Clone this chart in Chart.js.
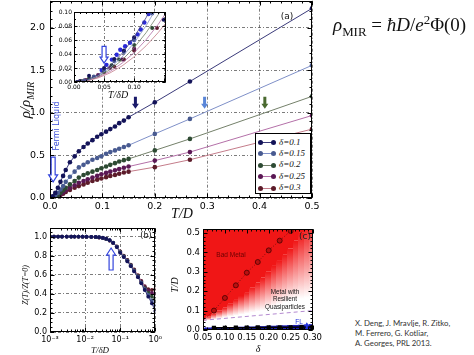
<!DOCTYPE html>
<html><head><meta charset="utf-8">
<script src="https://cdn.jsdelivr.net/npm/chart.js@4.4.1/dist/chart.umd.min.js"></script>
<style>
html,body{margin:0;padding:0;background:#fff;}
body{width:474px;height:355px;overflow:hidden;position:relative;}
canvas{position:absolute;display:block;}
.t{position:absolute;white-space:nowrap;line-height:1;color:#111;}
.c{transform:translate(-50%,-50%);}
.r{transform:translate(-50%,-50%) rotate(-90deg);}
.m{font-family:"Liberation Serif","DejaVu Serif",serif;font-style:italic;}
.s{font-family:"DejaVu Sans",sans-serif;}
.l{font-family:"Liberation Sans",Arial,sans-serif;}
sub,sup{font-size:0.68em;line-height:0;}
</style></head><body>
<canvas id="ca" width="330" height="231" style="left:0;top:-10px"></canvas>
<canvas id="ci" width="130" height="94" style="left:40px;top:4px"></canvas>
<canvas id="cb" width="165" height="135" style="left:0;top:220px"></canvas>
<canvas id="cc" width="160" height="135" style="left:165px;top:220px"></canvas>
<div id="leg" style="position:absolute;left:255px;top:133px;width:56px;height:61px;border:1px solid #000;background:#fff;box-sizing:border-box"></div>

<div class="t m r" style="left:25px;top:100px;font-size:15px">ρ/ρ<sub>MIR</sub></div>
<div class="t m c" style="left:182px;top:214px;font-size:14px">T/D</div>
<div class="t m c" style="left:118px;top:95px;font-size:10px">T/δD</div>
<div class="t s r" style="left:57px;top:126px;font-size:8px;color:#3c4ed8">Fermi Liquid</div>
<div class="t s c" style="left:287px;top:16px;font-size:9px">(a)</div>
<div class="t m r" style="left:26px;top:285px;font-size:8px">Z(T)/Z(T=0)</div>
<div class="t m c" style="left:100px;top:350px;font-size:9px">T/δD</div>
<div class="t s c" style="left:146px;top:236px;font-size:8px">(b)</div>
<div class="t m r" style="left:175px;top:285px;font-size:10px">T/D</div>
<div class="t m c" style="left:258px;top:349px;font-size:10px">δ</div>
<div class="t s c" style="left:305px;top:236px;font-size:9px;color:#222">(c)</div>
<div class="t l c" style="left:231px;top:255px;font-size:6.5px;color:#6a0000">Bad Metal</div>
<div class="t l c" style="left:285px;top:292px;font-size:6.3px">Metal with</div>
<div class="t l c" style="left:285px;top:299px;font-size:6.3px">Resilient</div>
<div class="t l c" style="left:285px;top:306.5px;font-size:6.3px">Quasiparticles</div>
<div class="t l c" style="left:299px;top:322px;font-size:6.5px;color:#2233dd">FL</div>
<div class="t" style="left:333px;top:15px;font-family:'Liberation Serif','DejaVu Serif',serif;font-size:19px"><i>ρ</i><sub>MIR</sub> = <i>ħD</i>/<i>e</i><sup>2</sup>Φ(0)</div>
<div class="t" style="left:355px;top:318px;font-family:Lato,'Liberation Sans',sans-serif;font-size:7.8px;line-height:10px;color:#333">X. Deng, J. Mravlje, R. Zitko,<br>M. Ferrero, G. Kotliar,<br>A. Georges, PRL 2013.</div>

<script>
// ---------------- DATA ----------------
const deltaLabels = ['δ=0.1','δ=0.15','δ=0.2','δ=0.25','δ=0.3'];
// panel (a): rho/rho_MIR vs T/D
const tempA = [0,0.005,0.01,0.015,0.02,0.025,0.03,0.038,0.047,0.055,0.064,0.072,0.081,0.09,0.098,0.107,0.115,0.124,0.132,0.141,0.15,0.2,0.267,0.5];
const rhoD010 = [0,0.02,0.06,0.12,0.19,0.26,0.33,0.42,0.49,0.55,0.60,0.64,0.68,0.72,0.75,0.78,0.81,0.84,0.88,0.91,0.95,1.125,1.37,2.23];
const rhoD015 = [0,0.01,0.03,0.06,0.10,0.14,0.19,0.25,0.31,0.36,0.39,0.42,0.45,0.47,0.49,0.52,0.54,0.56,0.58,0.60,0.62,0.754,0.93,1.56];
const rhoD020 = [0,0.005,0.015,0.035,0.06,0.09,0.12,0.16,0.20,0.24,0.27,0.29,0.31,0.33,0.35,0.37,0.39,0.41,0.43,0.445,0.46,0.56,0.695,1.195];
const rhoD025 = [0,0.004,0.01,0.025,0.045,0.065,0.09,0.12,0.15,0.18,0.20,0.22,0.24,0.26,0.28,0.295,0.31,0.325,0.34,0.355,0.37,0.44,0.54,0.97];
const rhoD030 = [0,0.003,0.008,0.02,0.035,0.05,0.07,0.095,0.12,0.14,0.16,0.18,0.20,0.215,0.23,0.245,0.26,0.27,0.285,0.30,0.31,0.363,0.45,0.81];
// inset: fits and points vs T/(delta D)
const insetFitX = [0,0.02,0.04,0.06,0.08,0.1,0.12,0.14,0.16];
const insetFitY = [
  [0,0.00256,0.0102,0.023,0.041,0.064,0.092,0.125,0.164],
  [0,0.00224,0.009,0.0202,0.0358,0.056,0.0806,0.110,0.143],
  [0,0.00196,0.0078,0.0176,0.0314,0.049,0.0706,0.096,0.125],
  [0,0.00168,0.0067,0.0151,0.0269,0.042,0.0605,0.0823,0.1075],
  [0,0.00144,0.0058,0.013,0.023,0.036,0.0518,0.0706,0.092]
];
const insetPtsX = [
  [0.005,0.01,0.025,0.05,0.067,0.083,0.1,0.149],
  [0.017,0.033,0.05,0.067,0.083,0.1,0.13],
  [0.0125,0.025,0.05,0.0625,0.075,0.1,0.13],
  [0.01,0.02,0.04,0.06,0.08,0.1],
  [0.017,0.033,0.05,0.067,0.083,0.1,0.138]
];
const insetPtsY = [
  [0,0.001,0.009,0.02,0.033,0.045,0.064,0.089],
  [0.002,0.008,0.017,0.03,0.043,0.06,0.098],
  [0.001,0.005,0.015,0.024,0.032,0.053,0.077],
  [0.001,0.003,0.01,0.02,0.032,0.048],
  [0.002,0.007,0.014,0.022,0.032,0.045,0.077]
];
const starX = [0.046,0.054,0.063,0.071,0.077,0.085,0.093,0.1,0.106,0.111,0.117,0.124,0.128];
const starY = [0.017,0.0245,0.032,0.039,0.046,0.051,0.056,0.0605,0.068,0.075,0.085,0.097,0.104];
// panel (b): Z(T)/Z(0) vs T/(delta D)
const zT = [0.001,0.0013,0.0017,0.0022,0.003,0.004,0.005,0.0065,0.0085,0.011,0.015,0.02,0.025,0.032,0.04,0.05,0.063,0.08,0.1,0.126,0.16,0.2,0.25,0.32,0.4,0.5,0.63,0.8,1.0];
const zD010 = [1,1,1,1,1,1,1,1,1,0.999,0.998,0.996,0.993,0.988,0.978,0.962,0.935,0.89,0.83,0.785,0.74,0.69,0.635,0.575,0.51,0.44,0.37,0.3,0.22];
const zD015 = [1,1,1,1,1,1,1,1,1,0.999,0.998,0.996,0.993,0.987,0.977,0.962,0.937,0.893,0.835,0.79,0.745,0.695,0.64,0.58,0.515,0.45,0.39,0.33,0.28];
const zD020 = [1,1,1,1,1,1,1,1,0.999,0.999,0.997,0.995,0.992,0.986,0.976,0.96,0.936,0.895,0.84,0.795,0.75,0.70,0.645,0.585,0.52,0.46,0.41,0.37,0.35];
const zD025 = [1,1,1,1,1,1,1,1,0.999,0.998,0.997,0.995,0.991,0.985,0.975,0.959,0.935,0.895,0.842,0.798,0.752,0.703,0.65,0.59,0.53,0.47,0.43,0.41,0.40];
const zD030 = [1,1,1,1,1,1,1,0.999,0.999,0.998,0.996,0.994,0.99,0.984,0.974,0.958,0.934,0.896,0.845,0.80,0.755,0.706,0.655,0.595,0.535,0.48,0.45,0.44,0.45];
// panel (c): crossover diagram T/D vs delta
const crossD = [0.05,0.075,0.1,0.125,0.15,0.175,0.2,0.225,0.25];
const crossT = [0.05,0.10,0.165,0.23,0.295,0.35,0.41,0.46,0.51];
const qpD = [0.05,0.3];
const qpT = [0.05,0.1];
const flD = [0.075,0.1,0.125,0.15,0.175,0.2,0.225,0.25,0.275,0.3];
const flT = [0.011,0.011,0.012,0.012,0.013,0.013,0.014,0.014,0.015,0.015];
const heatD = [0.05,0.0625,0.075,0.0875,0.1,0.1125,0.125,0.1375,0.15,0.1625,0.175,0.1875,0.2,0.2125,0.225,0.2375,0.25,0.2625,0.275,0.2875,0.3];
const heatRed = [0.055,0.07,0.085,0.10,0.115,0.135,0.155,0.175,0.195,0.22,0.245,0.27,0.30,0.33,0.36,0.39,0.42,0.46,0.50,0.54,0.58];
const heatWhite = [0.045,0.05,0.055,0.06,0.065,0.07,0.075,0.08,0.085,0.09,0.095,0.10,0.11,0.12,0.13,0.14,0.15,0.155,0.16,0.165,0.17];
const heatFL = [0.012,0.013,0.013,0.014,0.015,0.015,0.016,0.017,0.018,0.018,0.019,0.02,0.021,0.022,0.023,0.024,0.025,0.026,0.027,0.028,0.03];

// ---------------- STYLE ----------------
const lineColors = ['#3a3a7a','#7f90c8','#74806a','#b470a8','#c47c8a'];
const pointColors = ['#131358','#485a90','#2d4a33','#5a1854','#5c1c2a'];
const TICKFONT = 'DejaVu Sans';

function rng(a,b,s){const r=[];for(let v=a;v<=b+1e-9;v+=s)r.push(+v.toFixed(6));return r;}
function scaleOpt(o){
  const s = {type:o.type||'linear',min:o.min,max:o.max,
    ticks:{includeBounds:false,font:{family:TICKFONT,size:o.fs},color:'#000',padding:o.pad||3,maxRotation:0,autoSkip:false,
      callback:o.cb||(v=>v.toFixed(o.fmt))},
    grid:{display:o.grid!==false,color:'#444',lineWidth:0.7,drawTicks:false},
    border:{display:false,dash:[3,2,1,2]},
    afterFit:sc=>{ if(o.isX) sc.height=o.size; else sc.width=o.size; }};
  if(o.step) s.ticks.stepSize=o.step;
  if(o.fixedTicks) s.afterBuildTicks=sc=>{sc.ticks=o.fixedTicks.map(v=>({value:v}));};
  return s;
}
function framePlugin(spec){
  return {id:'frame',afterDatasetsDraw(chart){
    const {ctx,chartArea:a,scales:{x,y}}=chart;
    ctx.save();ctx.strokeStyle='#000';ctx.lineWidth=1;
    const L=Math.round(a.left)+0.5,R=Math.round(a.right)-0.5,T=Math.round(a.top)+0.5,B=Math.round(a.bottom)-0.5;
    ctx.beginPath();
    [[spec.xMaj,spec.maj],[spec.xMin,spec.min]].forEach(([vals,len])=>vals.forEach(v=>{
      const p=Math.round(x.getPixelForValue(v))+0.5; if(p<a.left-1||p>a.right+1)return;
      ctx.moveTo(p,B);ctx.lineTo(p,B-len);ctx.moveTo(p,T);ctx.lineTo(p,T+len);}));
    [[spec.yMaj,spec.maj],[spec.yMin,spec.min]].forEach(([vals,len])=>vals.forEach(v=>{
      const p=Math.round(y.getPixelForValue(v))+0.5; if(p<a.top-1||p>a.bottom+1)return;
      ctx.moveTo(L,p);ctx.lineTo(L+len,p);ctx.moveTo(R,p);ctx.lineTo(R-len,p);}));
    ctx.stroke();
    ctx.strokeRect(L,T,R-L,B-T);
    ctx.restore();
  }};
}
function drawArrow(ctx,x,yTail,yTip,shaft,head,headLen,color,hollow){
  const dir = yTip>yTail?1:-1;
  const yb = yTip-dir*headLen;
  ctx.beginPath();
  ctx.moveTo(x-shaft/2,yTail);ctx.lineTo(x-shaft/2,yb);ctx.lineTo(x-head/2,yb);ctx.lineTo(x,yTip);
  ctx.lineTo(x+head/2,yb);ctx.lineTo(x+shaft/2,yb);ctx.lineTo(x+shaft/2,yTail);ctx.closePath();
  if(hollow){ctx.fillStyle='#fff';ctx.fill();ctx.strokeStyle=color;ctx.lineWidth=1.2;ctx.stroke();}
  else{ctx.fillStyle=color;ctx.fill();}
}
function arrowPlugin(list){
  return {id:'arrows',afterDatasetsDraw(chart){
    const {ctx,scales:{x,y}}=chart; ctx.save();
    list.forEach(a=>drawArrow(ctx,x.getPixelForValue(a.x),y.getPixelForValue(a.from),y.getPixelForValue(a.to),a.shaft,a.head,a.headLen,a.color,a.hollow));
    ctx.restore();
  }};
}
const baseOpts = (pad,scales)=>({animation:false,responsive:false,devicePixelRatio:1,
  layout:{padding:pad},plugins:{legend:{display:false},tooltip:{enabled:false}},scales});

// ---------------- PANEL (a) ----------------
const rhoSeries=[rhoD010,rhoD015,rhoD020,rhoD025,rhoD030];
new Chart(document.getElementById('ca'),{
  type:'scatter',
  data:{datasets:rhoSeries.map((s,i)=>({label:deltaLabels[i],data:tempA.map((t,j)=>({x:t,y:s[j]})),
    showLine:true,borderColor:lineColors[i],borderWidth:1,pointRadius:2.3,pointBorderWidth:0,
    pointBackgroundColor:pointColors[i],pointBorderColor:pointColors[i]}))},
  options:baseOpts({top:9,right:18,left:0,bottom:0},{
    x:scaleOpt({min:0,max:0.5,step:0.1,fmt:1,fs:9.5,isX:true,size:23}),
    y:scaleOpt({min:0,max:2.32,step:0.5,fmt:1,fs:9.5,size:50,pad:5})
  }),
  plugins:[framePlugin({xMaj:rng(0,0.5,0.1),xMin:rng(0,0.5,0.02),yMaj:rng(0,2.5,0.5),yMin:rng(0,2.3,0.1),maj:4,min:2}),
    arrowPlugin([
      {x:0.163,from:1.19,to:1.05,shaft:3,head:7,headLen:5,color:'#1a1a6a'},
      {x:0.295,from:1.19,to:1.05,shaft:3,head:7,headLen:5,color:'#5a86d8'},
      {x:0.41,from:1.19,to:1.05,shaft:3,head:7,headLen:5,color:'#4a6a30'},
      {x:0.006,from:0.48,to:0.19,shaft:4,head:9,headLen:7,color:'#3344dd',hollow:true}
    ])]
});

// ---------------- INSET ----------------
const insetSets = [];
insetFitY.forEach((s,i)=>insetSets.push({data:insetFitX.map((x,j)=>({x,y:s[j]})),showLine:true,pointRadius:0,borderWidth:0.8,borderColor:lineColors[i]}));
insetPtsX.forEach((xs,i)=>insetSets.push({data:xs.map((x,j)=>({x,y:insetPtsY[i][j]})),showLine:false,pointRadius:2,pointBorderWidth:0,pointBackgroundColor:pointColors[i]}));
insetSets.push({data:starX.map((x,j)=>({x,y:starY[j]})),showLine:false,pointRadius:2.2,pointBorderWidth:0,pointBackgroundColor:'#2a2ad8'});
new Chart(document.getElementById('ci'),{
  type:'scatter',data:{datasets:insetSets},
  options:baseOpts({top:8,right:4,left:0,bottom:0},{
    x:scaleOpt({min:0,max:0.153,step:0.05,fs:6,isX:true,size:16,pad:2,cb:v=>v<0.14?v.toFixed(2):''}),
    y:scaleOpt({min:0,max:0.1,step:0.02,fmt:2,fs:6,size:34,pad:2})
  }),
  plugins:[{id:'bg',beforeDraw(c){const a=c.chartArea;c.ctx.save();c.ctx.fillStyle='#fff';c.ctx.fillRect(a.left,a.top,a.right-a.left,a.bottom-a.top);c.ctx.restore();}},
    framePlugin({xMaj:rng(0,0.15,0.05),xMin:rng(0,0.15,0.01),yMaj:rng(0,0.1,0.02),yMin:rng(0,0.1,0.01),maj:3,min:1.5}),
    arrowPlugin([{x:0.05,from:0.051,to:0.027,shaft:4,head:8,headLen:6,color:'#3344dd',hollow:true}])]
});

// ---------------- PANEL (b) ----------------
const zSeries=[zD010,zD015,zD020,zD025,zD030];
const sup={'-3':'10⁻³','-2':'10⁻²','-1':'10⁻¹','0':'10⁰'};
const logMinor=[];[0.001,0.01,0.1].forEach(d=>{for(let m=2;m<10;m++)logMinor.push(m*d);});
new Chart(document.getElementById('cb'),{
  type:'scatter',
  data:{datasets:zSeries.map((s,i)=>({label:deltaLabels[i],data:zT.map((t,j)=>({x:t,y:s[j]})),
    showLine:true,borderColor:lineColors[i],borderWidth:1,pointRadius:1.9,pointBorderWidth:0,
    pointBackgroundColor:pointColors[i]}))},
  options:baseOpts({top:8,right:8,left:0,bottom:0},{
    x:scaleOpt({type:'logarithmic',min:0.001,max:1,fs:8,isX:true,size:23,fixedTicks:[0.001,0.01,0.1,1],
      cb:v=>sup[String(Math.round(Math.log10(v)))]}),
    y:scaleOpt({min:0,max:1.09,step:0.2,fmt:1,fs:8,size:50})
  }),
  plugins:[framePlugin({xMaj:[0.001,0.01,0.1,1],xMin:logMinor,yMaj:rng(0,1,0.2),yMin:rng(0,1.05,0.05),maj:4,min:2}),
    arrowPlugin([{x:0.055,from:0.65,to:0.88,shaft:4,head:9,headLen:7,color:'#3344dd',hollow:true}])]
});

// ---------------- PANEL (c) ----------------
const heatPlugin={id:'heat',beforeDatasetsDraw(chart){
  const {ctx,chartArea:a,scales:{x,y}}=chart;
  ctx.save();ctx.beginPath();ctx.rect(a.left,a.top,a.right-a.left,a.bottom-a.top);ctx.clip();
  const half=(heatD[1]-heatD[0])/2;
  heatD.forEach((d,i)=>{
    const x0=Math.floor(x.getPixelForValue(d-half)),x1=Math.ceil(x.getPixelForValue(d+half));
    const yR=y.getPixelForValue(heatRed[i]),yW=y.getPixelForValue(heatWhite[i]);
    ctx.fillStyle='rgb(240,22,22)';ctx.fillRect(x0,a.top,x1-x0,Math.max(0,yR-a.top));
    const g=ctx.createLinearGradient(0,yR,0,yW);g.addColorStop(0,'rgb(240,22,22)');g.addColorStop(1,'rgb(255,255,255)');
    ctx.fillStyle=g;ctx.fillRect(x0,yR,x1-x0,yW-yR);
    const yB=y.getPixelForValue(heatFL[i]);
    ctx.fillStyle='#1a1ab4';ctx.fillRect(x0,yB,x1-x0,a.bottom-yB);
  });
  ctx.restore();
}};
new Chart(document.getElementById('cc'),{
  type:'scatter',
  data:{datasets:[
    {data:crossD.map((d,j)=>({x:d,y:crossT[j]})),showLine:true,borderColor:'#7a1010',borderWidth:1,borderDash:[1,2],
      pointRadius:c=>c.dataIndex===0?0:2.5,pointBackgroundColor:'#b81010',pointBorderColor:'#4a0000',pointBorderWidth:0.8},
    {data:qpD.map((d,j)=>({x:d,y:qpT[j]})),showLine:true,borderColor:'#b48ad0',borderWidth:1,borderDash:[4,3],pointRadius:0},
    {data:flD.map((d,j)=>({x:d,y:flT[j]})),showLine:true,borderColor:'#000',borderWidth:1.5,pointStyle:'rect',pointRadius:3,
      pointBackgroundColor:'#000',pointBorderWidth:0}
  ]},
  options:baseOpts({top:9,right:12,left:0,bottom:0},{
    x:scaleOpt({min:0.05,max:0.3,step:0.05,fmt:2,fs:8.5,isX:true,size:25,grid:false}),
    y:scaleOpt({min:0,max:0.52,step:0.1,fmt:1,fs:8.5,size:38,grid:false})
  }),
  plugins:[heatPlugin,framePlugin({xMaj:rng(0.05,0.3,0.05),xMin:rng(0.05,0.3,0.01),yMaj:rng(0,0.5,0.1),yMin:rng(0,0.5,0.02),maj:4,min:2}),
    arrowPlugin([{x:0.287,from:0.004,to:0.04,shaft:2,head:5,headLen:4,color:'#2233dd'}])]
});

// ---------------- LEGEND (a) ----------------
const leg=document.getElementById('leg');
deltaLabels.forEach((lab,i)=>{
  const cy=8+i*11.4;
  leg.insertAdjacentHTML('beforeend',
    `<div style="position:absolute;left:4px;top:${cy}px;width:14px;height:1px;background:${lineColors[i]}"></div>`+
    `<div style="position:absolute;left:2px;top:${cy-2}px;width:5px;height:5px;border-radius:50%;background:${pointColors[i]}"></div>`+
    `<div style="position:absolute;left:15px;top:${cy-2}px;width:5px;height:5px;border-radius:50%;background:${pointColors[i]}"></div>`+
    `<div class="t m" style="left:23px;top:${cy-4.5}px;font-size:9px">${lab}</div>`);
});
</script>
</body></html>
